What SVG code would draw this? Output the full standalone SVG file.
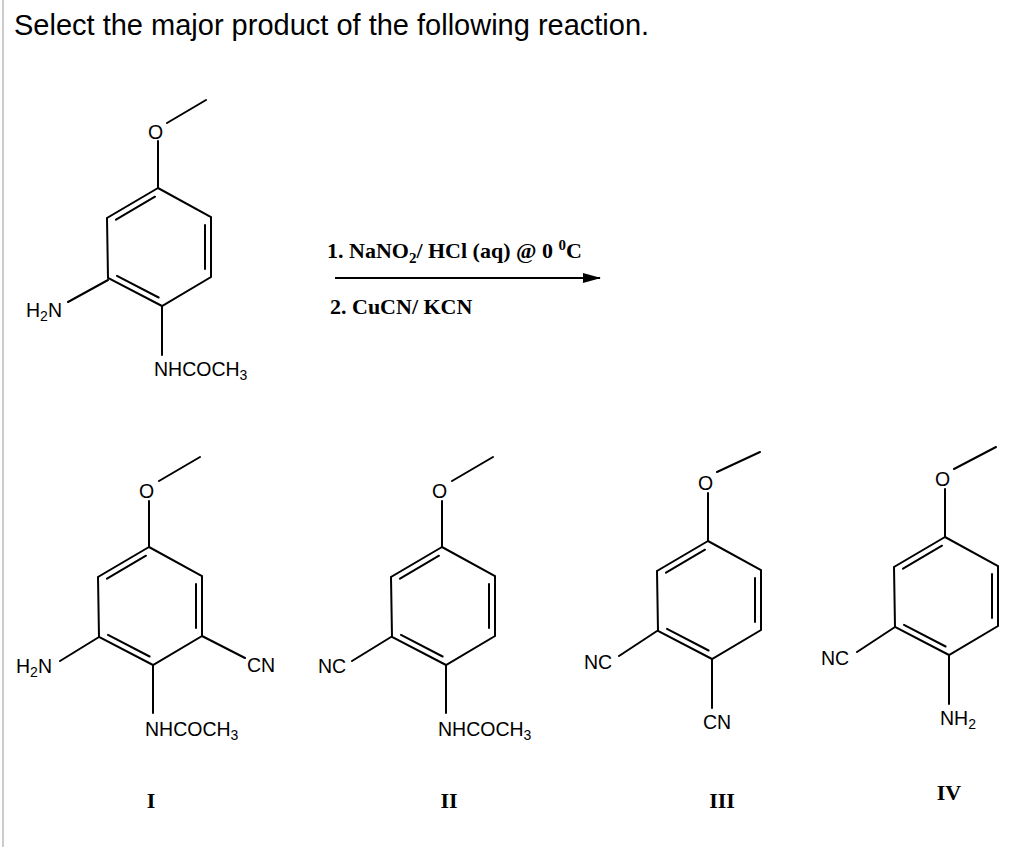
<svg xmlns="http://www.w3.org/2000/svg" width="1024" height="847" viewBox="0 0 1024 847">
<style>
.b{stroke:#000;stroke-width:2;fill:none;stroke-linecap:round}
.l{font-family:"Liberation Sans",Arial,sans-serif;font-size:19.5px;fill:#000}
.r{font-family:"Liberation Serif","Times New Roman",serif;font-weight:bold;fill:#000}
</style>
<defs>
<g id="ring" class="b">
<path d="M0,0 L-51,30 L-50,90 L4,118 L53,89 L53,29 Z"/>
<path d="M-3,8.7 L-42,31.7 M47,37 L47,81 M-41,87.9 L0.6,109.5"/>
</g>
<marker id="ah" markerWidth="18" markerHeight="10" refX="17" refY="5" orient="auto" markerUnits="userSpaceOnUse"><path d="M0,0 L18,5 L0,10 Z" fill="#000"/></marker>
</defs>
<rect width="1024" height="847" fill="#fff"/>
<line x1="3" y1="0" x2="3" y2="847" stroke="#ccc" stroke-width="2"/>
<text x="14" y="35" font-family="Liberation Sans,Arial,sans-serif" font-size="29">Select the major product of the following reaction.</text>

<g id="start">
<use href="#ring" x="158" y="188"/>
<path class="b" d="M158,141 L158,188 M167,123 L206,100 M68,302 L108,280 M162,306 L162,355"/>
<text class="l" x="148" y="139">O</text>
<text class="l" x="26" y="317">H<tspan font-size="14" dy="4">2</tspan><tspan dy="-4">N</tspan></text>
<text class="l" x="154" y="376">NHCOCH<tspan font-size="14" dy="4">3</tspan></text>
</g>

<g id="connectors">
<line x1="335" y1="278" x2="600" y2="278" stroke="#000" stroke-width="2" marker-end="url(#ah)"/>
<text class="r" x="327" y="258" font-size="22">1. NaNO<tspan font-size="15" dy="5">2</tspan><tspan dy="-5">/ HCl (aq) @ 0 </tspan><tspan font-size="15" dy="-8">0</tspan><tspan dy="8">C</tspan></text>
<text class="r" x="330" y="314" font-size="22">2. CuCN/ KCN</text>
</g>

<g id="cI">
<use href="#ring" x="149" y="547"/>
<path class="b" d="M149,501 L149,547 M159,481 L200,457 M60,661 L99,637 M202,636 L245,658 M153,665 L153,713"/>
<text class="l" x="139" y="498">O</text>
<text class="l" x="16" y="673">H<tspan font-size="14" dy="4">2</tspan><tspan dy="-4">N</tspan></text>
<text class="l" x="247" y="672">CN</text>
<text class="l" x="145" y="736">NHCOCH<tspan font-size="14" dy="4">3</tspan></text>
<text class="r" x="151" y="808" font-size="22" text-anchor="middle">I</text>
</g>

<g id="cII">
<use href="#ring" x="442" y="547"/>
<path class="b" d="M442,501 L442,547 M452,481 L493,457 M352,661 L391,637 M446,665 L446,713"/>
<text class="l" x="432" y="498">O</text>
<text class="l" x="318" y="673">NC</text>
<text class="l" x="438" y="736">NHCOCH<tspan font-size="14" dy="4">3</tspan></text>
<text class="r" x="449" y="808" font-size="22" text-anchor="middle">II</text>
</g>

<g id="cIII">
<use href="#ring" x="708" y="541"/>
<path class="b" d="M708,493 L708,541 M717,472 L760,452 M619,656 L657,631 M712,659 L712,708"/>
<text class="l" x="698" y="490">O</text>
<text class="l" x="584" y="669">NC</text>
<text class="l" x="703" y="729">CN</text>
<text class="r" x="722" y="808" font-size="22" text-anchor="middle">III</text>
</g>

<g id="cIV">
<use href="#ring" x="945" y="537"/>
<path class="b" d="M945,489 L945,537 M954,469 L996,447 M857,652 L895,627 M949,655 L949,704"/>
<text class="l" x="935" y="486">O</text>
<text class="l" x="821" y="665">NC</text>
<text class="l" x="940" y="725">NH<tspan font-size="14" dy="4">2</tspan></text>
<text class="r" x="949" y="800" font-size="22" text-anchor="middle">IV</text>
</g>
</svg>
